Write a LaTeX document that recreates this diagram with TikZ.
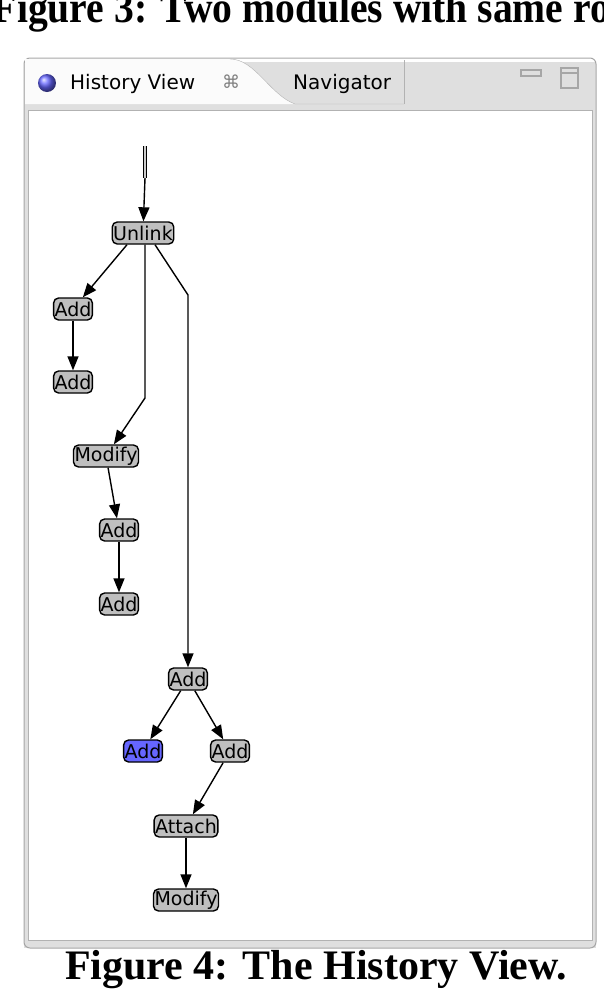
\documentclass[tikz,border=0pt]{standalone}
\usepackage{fontspec}
\setmainfont{Liberation Serif}
\newfontfamily\uifont{DejaVu Sans}
\usetikzlibrary{arrows.meta}
\begin{document}
\begin{tikzpicture}[x=1pt,y=-1pt,
  nd/.style={draw=black,line width=1.4pt,rounded corners=5pt,fill=gray!50,inner sep=1pt,minimum height=22pt,font=\uifont\fontsize{19}{19}\selectfont},
  ar/.style={-{Triangle[length=14pt,width=11pt]},line width=1.4pt}]
\useasboundingbox (0,0) rectangle (604,991);
\begin{scope}
\clip (0,0) rectangle (604,991);
\node[font=\bfseries\fontsize{44}{44}\selectfont,anchor=north,xscale=0.9] (t3) at (318,-12) {Figure 3: Two modules with same root};
\end{scope}
% window
\fill[gray!25] (24,62) rectangle (596,948);
\draw[gray!70,line width=1pt,rounded corners=6pt] (24,948) -- (24,58) -- (596,58) -- (596,948) -- cycle;
\fill[white] (28,110) rectangle (592,940);
\draw[gray!60] (28,110) rectangle (592,940);
\fill[white!97!gray] (25,59) -- (230,59) .. controls (255,59) and (270,95) .. (295,104) -- (25,104) -- cycle;
\draw[gray!60] (230,59) .. controls (255,59) and (270,95) .. (295,104) -- (404,104);
\draw[gray!60] (404,60) -- (404,104);
\shade[ball color=blue!60] (47,83) circle (9pt);
\node[font=\uifont\fontsize{20}{20}\selectfont,anchor=west,inner sep=0pt] (hv) at (70,84) {History View};
\node[font=\uifont\fontsize{18}{18}\selectfont,text=gray] (x) at (231,82) {⌘};
\node[font=\uifont\fontsize{20}{20}\selectfont,anchor=west,inner sep=0pt] (nav) at (293,84) {Navigator};
\draw[gray!70,line width=1.2pt] (521,70) rectangle (541,76);
\draw[gray!70,line width=1.2pt] (561,68) rectangle (578,88);
\draw[gray!70,line width=1.2pt] (561,73) -- (578,73);
% graph
\coordinate (r1) at (145,146);
\coordinate (r2) at (145,178);
\draw[line width=4pt] (r1) -- (r2);
\draw[gray!40,line width=1.4pt] (r1) -- ([yshift=-2pt]r2);
\node[nd] (un) at (143,233) {Unlink};
\node[nd] (a1) at (73,309) {Add};
\node[nd] (a2) at (73,382) {Add};
\node[nd] (m1) at (106,456) {Modify};
\node[nd] (a3) at (119,530) {Add};
\node[nd] (a4) at (119,604) {Add};
\node[nd] (a5) at (188,679) {Add};
\node[nd,fill=blue!60!white] (ab) at (143,751) {Add};
\node[nd] (a6) at (230,751) {Add};
\node[nd] (at) at (186,826) {Attach};
\node[nd] (m2) at (186,900) {Modify};
\coordinate (b1) at (145,398);
\coordinate (b2) at (188,295);
\draw[ar] (r2) -- (un);
\draw[ar] ([xshift=-16pt]un.south) -- (a1);
\draw[ar] (a1) -- (a2);
\draw[ar] (un.south -| b1) -- (b1) -- (m1);
\draw[ar] ([xshift=12pt]un.south) -- (b2) -- (a5);
\draw[ar] (m1) -- (a3);
\draw[ar] (a3) -- (a4);
\draw[ar] (a5) -- (ab);
\draw[ar] (a5) -- (a6);
\draw[ar] (a6) -- (at);
\draw[ar] (at) -- (m2);
\node[font=\bfseries\fontsize{42}{42}\selectfont] (t4) at (316,970) {Figure 4: The History View.};
\end{tikzpicture}
\end{document}
